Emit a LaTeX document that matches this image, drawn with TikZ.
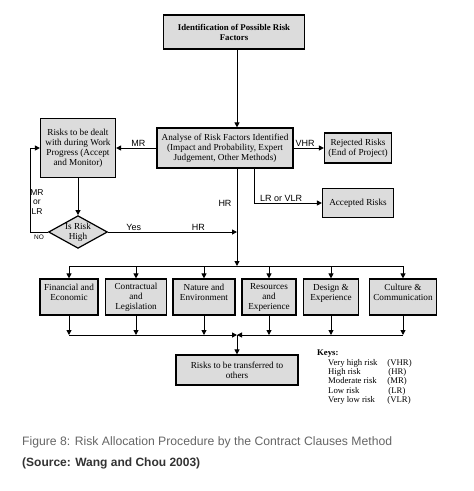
\documentclass[tikz,border=0pt]{standalone}
\usepackage{fontspec}
\setmainfont{Liberation Serif}
\setsansfont{Liberation Sans}
\usepackage{xcolor}
\usetikzlibrary{shapes.geometric,arrows.meta}

\definecolor{boxgray}{HTML}{DCDCDC}
\definecolor{capgray}{HTML}{666666}

\tikzset{
  box/.style={draw,line width=1.2pt,fill=boxgray,align=center,inner sep=1pt,
    font=\fontsize{9.2}{10}\selectfont},
  arr/.style={line width=1pt,-{Triangle[length=5pt,width=5pt]}},
  ln/.style={line width=1pt},
  lbl/.style={font=\sffamily\fontsize{9}{10}\selectfont,inner sep=1pt}
}

\begin{document}
\begin{tikzpicture}[x=1pt,y=-1pt]
  \useasboundingbox[fill=white] (0,0) rectangle (474,491);

  % Main boxes
  \node[box,minimum width=141,minimum height=34,font=\bfseries\fontsize{8.8}{10}\selectfont] (ident) at (234,32) {Identification of Possible Risk\\Factors};
  \node[box,minimum width=136,minimum height=40] (analyse) at (225,148) {Analyse of Risk Factors Identified\\(Impact and Probability, Expert\\Judgement, Other Methods)};
  \node[box,minimum width=75,minimum height=59] (deal) at (78,148) {Risks to be dealt\\with during Work\\Progress (Accept\\and Monitor)};
  \node[box,minimum width=67,minimum height=30] (reject) at (358,148) {Rejected Risks\\(End of Project)};
  \node[box,minimum width=71,minimum height=29] (accept) at (358,203) {Accepted Risks};
  \node[box,shape=diamond,aspect=1.8,minimum width=55,minimum height=30,inner sep=0pt] (high) at (78,232) {Is Risk\\High};

  % Spine points
  \coordinate (dist) at (237,266);
  \coordinate (coll) at (237,335);

  % Risk categories
  \node[box,minimum width=58,minimum height=36] (cat1) at (69,297) {Financial and\\Economic\\\mbox{}};
  \node[box,minimum width=61,minimum height=36] (cat2) at (136,297) {Contractual\\and\\Legislation};
  \node[box,minimum width=62,minimum height=36] (cat3) at (204,297) {Nature and\\Environment\\\mbox{}};
  \node[box,minimum width=54,minimum height=36] (cat4) at (269,297) {Resources\\and\\Experience};
  \node[box,minimum width=55,minimum height=36] (cat5) at (331,297) {Design \&\\Experience\\\mbox{}};
  \node[box,minimum width=67,minimum height=36] (cat6) at (403,297) {Culture \&\\Communication\\\mbox{}};

  \node[box,minimum width=122,minimum height=30] (transfer) at (237,370) {Risks to be transferred to\\others};

  % Connectors
  \draw[arr] (ident.south -| dist) -- (analyse.north -| dist);
  \draw[arr] (analyse.west) -- node[lbl,above,pos=0.45] {MR} (deal.east);
  \draw[arr] (analyse.east) -- node[lbl,above,pos=0.38] {VHR} (reject.west);
  \draw[arr] ([xshift=29pt]analyse.south) |- node[lbl,above,pos=0.7] {LR or VLR} (accept.west);
  \draw[arr] (analyse.south -| dist) -- node[lbl,left,pos=0.36,xshift=-4pt] {HR} (dist);
  \draw[arr] (deal.south) -- (high.north);
  \draw[arr] (high.east) -- node[lbl,above,pos=0.2] {Yes} node[lbl,above,pos=0.7] {HR} (high.east -| dist);
  \coordinate (loop) at (30,232);
  \draw[arr] (high.west) -- (loop) |- (deal.west);
  \node[lbl,align=center,font=\sffamily\fontsize{8.5}{9.5}\selectfont] (mrlr) at (37,202) {MR\\or\\LR};
  \node[lbl,font=\sffamily\fontsize{6.5}{7}\selectfont] (no) at (39,237) {NO};

  % Distribution and collection
  \draw[ln] (cat1.north |- dist) -- (cat6.north |- dist);
  \foreach \i in {1,...,6}{
    \draw[arr] (cat\i.north |- dist) -- (cat\i.north);
    \draw[arr] (cat\i.south) -- (cat\i.south |- coll);
  }
  \draw[arr] (cat1.south |- coll) -- (coll);
  \draw[arr] (cat6.south |- coll) -- (coll);
  \draw[arr] (coll) -- (transfer.north);

  % Keys
  \node[anchor=north west,inner sep=0pt,font=\fontsize{8.7}{9.3}\selectfont,align=left] (keys) at (317,350) {%
    \textbf{Keys:}\\
    \begin{tabular}{@{\hspace{11pt}}l@{\hspace{10pt}}l@{}}
      Very high risk & (VHR)\\
      High risk & \hspace{1pt}(HR)\\
      Moderate risk & (MR)\\
      Low risk & \hspace{1pt}(LR)\\
      Very low risk & (VLR)
    \end{tabular}};

  % Caption
  \node[anchor=west,inner sep=0pt,text=capgray,font=\sffamily\fontsize{12.2}{14}\selectfont] (caption) at (22,442) {Figure 8: Risk Allocation\ Procedure by the Contract Clauses\ Method};
  \node[anchor=west,inner sep=0pt,text=black!80,font=\sffamily\bfseries\fontsize{12}{14}\selectfont] (source) at (22,463) {(Source: Wang\ and Chou 2003)};
\end{tikzpicture}
\end{document}
